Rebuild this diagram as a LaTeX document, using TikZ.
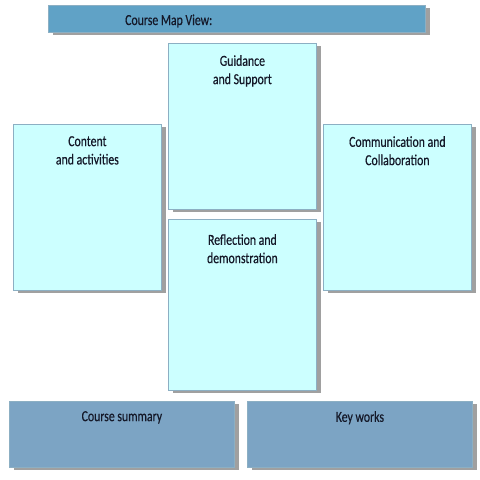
\documentclass[tikz,border=0pt]{standalone}
\usepackage{fontspec}
\setmainfont[FakeStretch=0.77, FakeBold=0.4]{Carlito}
\usetikzlibrary{positioning,shadows}

\definecolor{barra}{RGB}{96,162,198}
\definecolor{pie}{RGB}{124,164,196}
\definecolor{celda}{RGB}{204,255,255}
\definecolor{borde}{RGB}{140,175,195}
\definecolor{sombra}{RGB}{160,160,160}
\definecolor{tinta}{RGB}{20,24,40}

\tikzset{
    bloque/.style={draw=borde, line width=0.8pt, anchor=north west, inner sep=0pt,
        drop shadow={shadow xshift=5pt, shadow yshift=-2.5pt, fill=sombra, opacity=1}},
    celdaazul/.style={bloque, fill=celda, minimum width=148pt, minimum height=166pt},
    piecaja/.style={bloque, fill=pie, minimum width=225pt, minimum height=66pt},
    rotulo/.style={text=tinta, align=center, inner sep=0pt,
        font=\fontsize{15.3}{18.3}\selectfont}
}

\begin{document}
\begin{tikzpicture}[x=1pt, y=-1pt]
        % Fija el marco de la imagen.
        \useasboundingbox (0,0) rectangle (480,480);

        % Dibuja la barra del título.
        \node[bloque, fill=barra, minimum width=377pt, minimum height=27pt] (barra) at (48,5) {};
        \node[rotulo, anchor=base west] (titulo) at (125,25) {Course Map View:};

        % Dibuja las cuatro celdas en cruz.
        \node[celdaazul] (guia) at (168,43) {};
        \node[celdaazul] (contenido) at (13,124) {};
        \node[celdaazul] (comunicacion) at (323,124) {};
        \node[celdaazul, minimum height=171pt] (reflexion) at (168,219) {};

        % Dibuja las cajas del pie.
        \node[piecaja] (resumen) at (9,401) {};
        \node[piecaja] (claves) at (247,401) {};

        % Etiqueta cada caja.
        \node[rotulo, below=12pt of guia.north] (tguia) {Guidance\\and Support};
        \node[rotulo, below=12pt of contenido.north] (tcontenido) {Content\\and activities};
        \node[rotulo, below=12pt of comunicacion.north] (tcomunicacion) {Communication and\\Collaboration};
        \node[rotulo, below=15pt of reflexion.north] (treflexion) {Reflection and\\demonstration};
        \node[rotulo, below=10pt of resumen.north] (tresumen) {Course summary};
        \node[rotulo, below=10pt of claves.north] (tclaves) {Key works};
    \end{tikzpicture}
\end{document}
